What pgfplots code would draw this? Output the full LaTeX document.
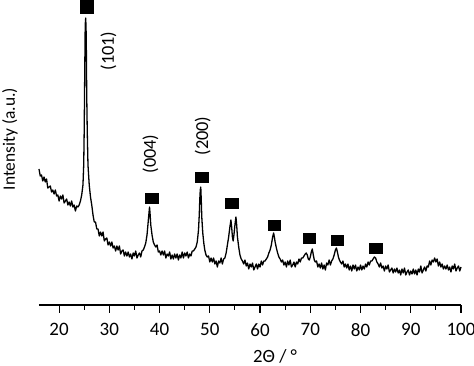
\documentclass[border=0pt]{standalone}
\usepackage{fontspec}
\setmainfont{Carlito}
\usepackage{pgfplots}
\pgfplotsset{compat=1.18}
\begin{document}
\fontsize{18.5}{22}\selectfont
\begin{tikzpicture}[font=\fontsize{18.5}{22}\selectfont]
\begin{axis}[
  name=ax,
  scale only axis,
  width=422pt, height=305pt,
  xmin=16, xmax=100, ymin=0, ymax=305,
  axis y line=none,
  axis x line*=bottom,
  axis line style={-, line width=1.1pt},
  xtick={20,30,...,100},
  minor x tick num=1,
  tick align=outside,
  major tick length=8pt,
  minor tick length=5pt,
  every tick/.style={black, line width=1.1pt},
  xticklabel style={font=\fontsize{19}{23}\selectfont, yshift=-4pt},
  /pgf/number format/assume math mode=true,
  clip=false,
]
\addplot[black, line width=1.3pt, line join=round] coordinates {
(16.00,136)(16.25,129)(16.50,130)(16.75,124)(17.00,128)(17.25,123)(17.50,126)(17.75,117)
(18.00,118)(18.25,119)(18.50,113)(18.75,115)(19.00,111)(19.25,115)(19.50,109)(19.75,110)
(20.00,104)(20.25,109)(20.50,106)(20.75,110)(21.00,102)(21.25,104)(21.50,106)(21.75,100)
(22.00,103)(22.25,99)(22.50,104)(22.75,98)(23.00,100)(23.25,94)(23.50,99)(23.75,98)
(24.00,100)(24.25,104)(24.50,110)(24.75,120)(24.90,140)(25.00,175)(25.10,230)(25.20,280)
(25.30,287)(25.40,270)(25.50,210)(25.60,175)(25.75,140)(26.00,120)(26.25,108)(26.50,100)
(26.75,90)(27.00,83)(27.25,83)(27.50,76)(27.75,76)(28.00,69)(28.25,73)(28.50,69)
(28.75,73)(29.00,64)(29.25,66)(29.50,67)(29.75,60)(30.00,63)(30.25,59)(30.50,63)
(30.75,57)(31.00,59)(31.25,54)(31.50,59)(31.75,55)(32.00,59)(32.25,51)(32.50,54)
(32.75,55)(33.00,49)(33.25,53)(33.50,49)(33.75,53)(34.00,48)(34.25,51)(34.50,46)
(34.75,52)(35.00,49)(35.25,54)(35.50,47)(35.75,50)(36.00,52)(36.25,48)(36.50,54)
(36.75,55)(37.00,58)(37.25,62)(37.50,70)(37.75,84)(38.00,98)(38.10,92)(38.25,80)
(38.50,70)(38.75,63)(39.00,60)(39.25,58)(39.50,60)(39.75,53)(40.00,54)(40.25,50)
(40.50,54)(40.75,50)(41.00,54)(41.25,47)(41.50,51)(41.75,49)(42.00,53)(42.25,46)
(42.50,50)(42.75,46)(43.00,51)(43.25,47)(43.50,51)(43.75,45)(44.00,50)(44.25,47)
(44.50,53)(44.75,47)(45.00,52)(45.25,49)(45.50,53)(45.75,47)(46.00,51)(46.25,49)
(46.50,54)(46.75,54)(47.00,56)(47.25,58)(47.50,63)(47.75,75)(47.90,90)(48.00,105)
(48.10,115)(48.20,118)(48.30,105)(48.40,88)(48.60,72)(48.80,62)(49.00,55)(49.25,50)
(49.50,48)(49.75,49)(50.00,43)(50.25,47)(50.50,43)(50.75,47)(51.00,41)(51.25,44)
(51.50,38)(51.75,44)(52.00,42)(52.25,47)(52.50,41)(52.75,46)(53.00,47)(53.25,52)
(53.50,60)(53.75,68)(54.00,78)(54.20,85)(54.35,78)(54.50,68)(54.65,64)(54.80,70)
(55.00,80)(55.20,88)(55.35,80)(55.50,68)(55.75,58)(56.00,50)(56.25,46)(56.50,44)
(56.75,41)(57.00,45)(57.25,39)(57.50,42)(57.75,36)(58.00,41)(58.25,38)(58.50,42)
(58.75,35)(59.00,38)(59.25,41)(59.50,36)(59.75,41)(60.00,38)(60.25,44)(60.50,40)
(60.75,44)(61.00,44)(61.25,46)(61.50,48)(61.75,52)(62.00,55)(62.25,60)(62.50,68)
(62.70,72)(62.85,68)(63.00,63)(63.25,57)(63.50,52)(63.75,48)(64.00,46)(64.25,43)
(64.50,45)(64.75,40)(65.00,43)(65.25,38)(65.50,44)(65.75,40)(66.00,45)(66.25,38)
(66.50,40)(66.75,43)(67.00,38)(67.25,43)(67.50,41)(67.75,46)(68.00,43)(68.25,47)
(68.50,47)(68.75,49)(69.00,51)(69.20,52)(69.40,50)(69.60,46)(69.80,45)(70.00,48)
(70.20,53)(70.40,56)(70.60,50)(70.80,45)(71.00,43)(71.25,44)(71.50,38)(71.75,41)
(72.00,37)(72.25,42)(72.50,36)(72.75,40)(73.00,35)(73.25,42)(73.50,40)(73.75,45)
(74.00,40)(74.25,44)(74.50,46)(74.75,50)(75.00,55)(75.20,57)(75.40,53)(75.60,48)
(75.80,45)(76.00,43)(76.25,41)(76.50,44)(76.75,38)(77.00,41)(77.25,37)(77.50,41)
(77.75,35)(78.00,39)(78.25,34)(78.50,40)(78.75,36)(79.00,40)(79.25,34)(79.50,38)
(79.75,35)(80.00,40)(80.25,35)(80.50,39)(80.75,36)(81.00,41)(81.25,38)(81.50,43)
(81.75,40)(82.00,44)(82.25,44)(82.50,46)(82.75,48)(83.00,47)(83.25,43)(83.50,41)
(83.75,38)(84.00,42)(84.25,37)(84.50,39)(84.75,34)(85.00,39)(85.25,36)(85.50,40)
(85.75,33)(86.00,35)(86.25,37)(86.50,32)(86.75,36)(87.00,33)(87.25,37)(87.50,32)
(87.75,35)(88.00,30)(88.25,36)(88.50,32)(88.75,37)(89.00,30)(89.25,33)(89.50,35)
(89.75,30)(90.00,34)(90.25,31)(90.50,36)(90.75,31)(91.00,35)(91.25,30)(91.50,36)
(91.75,33)(92.00,39)(92.25,32)(92.50,35)(92.75,38)(93.00,34)(93.25,39)(93.50,38)
(93.75,44)(94.00,40)(94.25,45)(94.50,43)(94.75,47)(95.00,43)(95.25,46)(95.50,39)
(95.75,43)(96.00,38)(96.25,41)(96.50,36)(96.75,39)(97.00,36)(97.25,40)(97.50,35)
(97.75,38)(98.00,33)(98.25,39)(98.50,36)(98.75,41)(99.00,34)(99.25,37)(99.50,39)
(99.75,34)(100.00,38)
};
% reflection markers
\addplot[only marks, mark=square*, mark size=6.7pt, black] coordinates {(25.5,298)};
\addplot[only marks, mark=square*, mark size=5pt, black, mark options={xscale=1.25}] coordinates {
(38.4,107)(48.4,128)(54.4,102)(62.8,80)(69.8,67)(75.4,65)(83.0,57)
};
\node[rotate=90, font=\fontsize{18.3}{22}\selectfont] at (axis cs:29.8,254) {(101)};
\node[rotate=90, font=\fontsize{18.3}{22}\selectfont] at (axis cs:38.2,151) {(004)};
\node[rotate=90, font=\fontsize{18.3}{22}\selectfont] at (axis cs:48.6,169) {(200)};
\node[yshift=-51pt, font=\fontsize{18.7}{22}\selectfont] at (axis cs:63,0) {2Θ / °};
\node[xshift=-29pt, rotate=90, font=\fontsize{17.4}{21}\selectfont] at (axis cs:16,166) {Intensity (a.u.)};
\end{axis}
\pgfresetboundingbox
\path ([shift={(-39pt,-61pt)}]ax.south west) rectangle ([shift={(13pt,0pt)}]ax.north east);
\end{tikzpicture}
\end{document}
